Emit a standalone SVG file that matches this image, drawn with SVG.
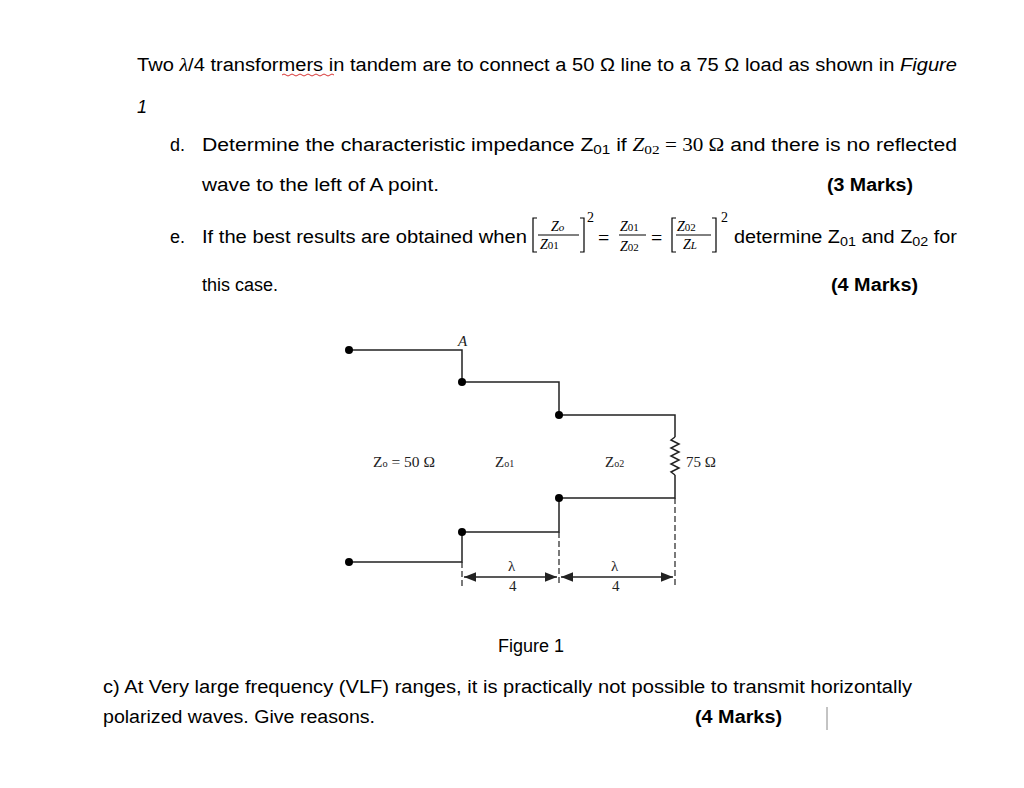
<svg xmlns="http://www.w3.org/2000/svg" width="1024" height="788" viewBox="0 0 1024 788">
<defs>
<style>
.t{font-family:"Liberation Sans",Arial,sans-serif;font-size:18px;fill:#000}
.m{font-family:"Liberation Serif","Times New Roman",serif;fill:#000}
.d{font-family:"Liberation Serif","Times New Roman",serif;font-size:15px;fill:#222}
.w{stroke:#222;stroke-width:1.5;fill:none}
.dash{stroke:#222;stroke-width:1.2;stroke-dasharray:6 3;fill:none}
</style>
<marker id="ah" viewBox="0 0 10 10" refX="10" refY="5" markerWidth="8" markerHeight="8" orient="auto-start-reverse"><path d="M0,1 L10,5 L0,9 z" fill="#222"/></marker>
</defs>
<rect width="1024" height="788" fill="#fff"/>
<text class="t" x="137" y="71" textLength="820" lengthAdjust="spacingAndGlyphs">Two <tspan class="m" font-style="italic">λ</tspan>/4 transformers in tandem are to connect a 50 Ω line to a 75 Ω load as shown in <tspan font-style="italic">Figure</tspan></text>
<path d="M282 75 q2 -2 4 0 t4 0 t4 0 t4 0 t4 0 t4 0 t4 0 t4 0 t4 0 t4 0 t4 0 t4 0 t4 0" stroke="#c00" stroke-width="0.8" fill="none"/>
<text class="t" x="137" y="113" font-style="italic">1</text>
<text class="t" x="170" y="151">d.</text>
<text class="t" x="202" y="151" textLength="755" lengthAdjust="spacingAndGlyphs">Determine the characteristic impedance Z<tspan font-size="13" dy="3">01</tspan><tspan dy="-3"> if </tspan><tspan class="m" font-style="italic">Z</tspan><tspan class="m" font-size="13" dy="3">02</tspan><tspan class="m" dy="-3"> = 30 Ω</tspan> and there is no reflected</text>
<text class="t" x="202" y="191" textLength="237" lengthAdjust="spacingAndGlyphs">wave to the left of A point.</text>
<text class="t" x="827" y="191" font-weight="bold" textLength="86" lengthAdjust="spacingAndGlyphs">(3 Marks)</text>
<text class="t" x="170" y="243">e.</text>
<text class="t" x="202" y="243" textLength="325" lengthAdjust="spacingAndGlyphs">If the best results are obtained when</text>
<g class="m" font-size="14">
<path d="M537 218 h-4 v34 h4 M580 218 h4 v34 h-4" stroke="#000" stroke-width="1.2" fill="none"/>
<text x="551" y="231" font-style="italic">Z<tspan font-size="11">o</tspan></text>
<line x1="538" y1="235" x2="579" y2="235" stroke="#000"/>
<text x="540" y="249" font-style="italic">Z<tspan font-size="11" font-style="normal">01</tspan></text>
<text x="587" y="222" font-size="14">2</text>
<text x="598" y="245" font-size="20">=</text>
<text x="620" y="231" font-style="italic">Z<tspan font-size="11" font-style="normal">01</tspan></text>
<line x1="619" y1="235" x2="646" y2="235" stroke="#000"/>
<text x="620" y="251" font-style="italic">Z<tspan font-size="11" font-style="normal">02</tspan></text>
<text x="651" y="245" font-size="20">=</text>
<path d="M676 218 h-4 v34 h4 M712 218 h4 v34 h-4" stroke="#000" stroke-width="1.2" fill="none"/>
<text x="677" y="231" font-style="italic">Z<tspan font-size="11" font-style="normal">02</tspan></text>
<line x1="676" y1="235" x2="711" y2="235" stroke="#000"/>
<text x="683" y="249" font-style="italic">Z<tspan font-size="11">L</tspan></text>
<text x="721" y="222" font-size="14">2</text>
</g>
<text class="t" x="734" y="243" textLength="223" lengthAdjust="spacingAndGlyphs">determine Z<tspan font-size="13" dy="3">01</tspan><tspan dy="-3"> and Z</tspan><tspan font-size="13" dy="3">02</tspan><tspan dy="-3"> for</tspan></text>
<text class="t" x="202" y="291">this case.</text>
<text class="t" x="831" y="291" font-weight="bold" textLength="87" lengthAdjust="spacingAndGlyphs">(4 Marks)</text>

<g id="connectors">
<path class="w" d="M349 350 H462 V382 H559 V415 H675 V437"/>
<path class="w" d="M675 475 V498 H559 V532 H462 V562 H349"/>
<path class="w" d="M675 437 l-4 3 l8 4 l-8 4 l8 4 l-8 4 l8 4 l-8 4 l8 4 l-8 4 l4 3"/>
<path class="dash" d="M559 532 V586 M675 498 V586 M462 562 V586"/>
<line class="w" x1="464" y1="577" x2="557" y2="577" stroke-width="1" marker-start="url(#ah)" marker-end="url(#ah)"/>
<line class="w" x1="561" y1="577" x2="673" y2="577" stroke-width="1" marker-start="url(#ah)" marker-end="url(#ah)"/>
</g>
<g id="nodes" fill="#000">
<circle cx="349" cy="350" r="4"/><circle cx="462" cy="382" r="4"/><circle cx="559" cy="415" r="4"/>
<circle cx="559" cy="498" r="4"/><circle cx="462" cy="532" r="4"/><circle cx="349" cy="562" r="4"/>
</g>
<g id="labels">
<text class="d" x="458" y="346" font-style="italic">A</text>
<text class="d" x="373" y="467" textLength="62" lengthAdjust="spacingAndGlyphs">Z<tspan font-size="10">o</tspan> = 50 Ω</text>
<text class="d" x="495" y="467">Z<tspan font-size="10">o1</tspan></text>
<text class="d" x="605" y="467">Z<tspan font-size="10">o2</tspan></text>
<text class="d" x="686" y="467">75 Ω</text>
<text class="d" x="508" y="571">λ</text><text class="d" x="509" y="591" font-size="11">4</text>
<text class="d" x="611" y="571">λ</text><text class="d" x="612" y="591" font-size="11">4</text>
</g>
<text class="t" x="498" y="652">Figure 1</text>
<text class="t" x="103" y="693" textLength="809" lengthAdjust="spacingAndGlyphs">c) At Very large frequency (VLF) ranges, it is practically not possible to transmit horizontally</text>
<text class="t" x="103" y="723" textLength="272" lengthAdjust="spacingAndGlyphs">polarized waves. Give reasons.</text>
<text class="t" x="695" y="723" font-weight="bold" textLength="87" lengthAdjust="spacingAndGlyphs">(4 Marks)</text>
<line x1="827" y1="707" x2="827" y2="730" stroke="#888"/>
</svg>
